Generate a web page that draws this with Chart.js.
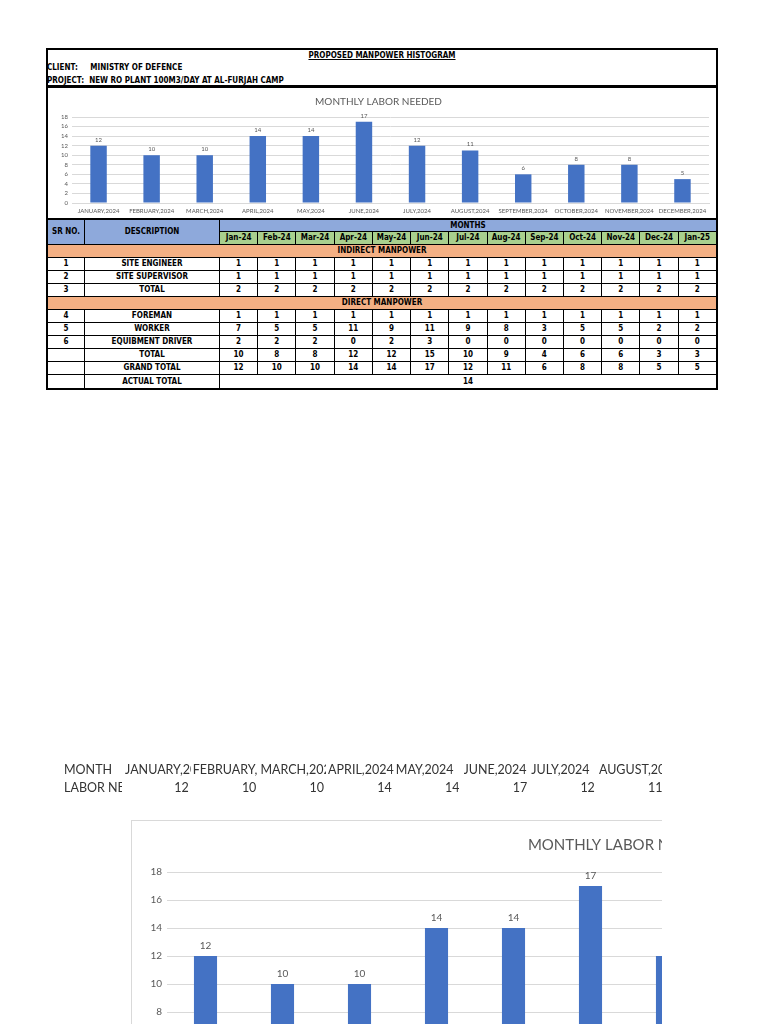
<!DOCTYPE html>
<html><head><meta charset="utf-8">
<script src="https://cdn.jsdelivr.net/npm/chart.js@4.4.1/dist/chart.umd.min.js"></script>
<style>
html,body{margin:0;padding:0;background:#fff;}
body{width:768px;height:1024px;overflow:hidden;position:relative;}
.abs{position:absolute;}
.cf{font-family:"Liberation Sans Narrow","DejaVu Sans Condensed",Lato,sans-serif;font-stretch:condensed;font-weight:bold;color:#000;white-space:nowrap;}
#frame{left:46px;top:48px;width:672px;height:342px;border:2px solid #000;box-sizing:border-box;}
#hline{left:46px;top:85px;width:672px;height:2px;background:#000;}
#title{left:46px;width:672px;top:51px;text-align:center;font-size:8px;text-decoration:underline;}
#client{left:47px;top:63px;font-size:8px;width:300px;overflow:hidden;}
#project{left:47px;top:76px;font-size:8px;width:400px;overflow:hidden;}
#cframe{left:47px;top:87px;width:670px;height:132px;border:1px solid #000;box-sizing:border-box;}
#c1wrap{left:48px;top:88px;width:668px;height:130px;}
#tbl{position:absolute;left:47px;top:219px;width:670px;border-collapse:collapse;table-layout:fixed;font-size:8px;}
#tbl td{border:1.6px solid #000;padding:0;text-align:center;vertical-align:middle;line-height:8px;overflow:hidden;white-space:nowrap;}
#tbl tr{height:13px;}
.blue{background:#8EA9DB;}
.green{background:#A9D08E;}
.orange{background:#F4B084;}
#clip{left:0;top:0;width:662px;height:1024px;overflow:hidden;}
.xc{position:absolute;font-family:Lato,"Open Sans",sans-serif;font-size:12.5px;color:#333;white-space:nowrap;overflow:hidden;height:16px;line-height:16px;}
#c2box{left:131px;top:820px;width:984px;height:337px;border:1px solid #d9d9d9;box-sizing:border-box;}
#c2wrap{left:132px;top:821px;width:982px;height:335px;}
</style>
</head>
<body>
<div id="frame" class="abs"></div>
<div id="hline" class="abs"></div>
<div id="title" class="abs cf">PROPOSED MANPOWER HISTOGRAM</div>
<div id="client" class="abs cf">CLIENT:&nbsp;&nbsp;&nbsp;&nbsp;&nbsp;MINISTRY OF DEFENCE</div>
<div id="project" class="abs cf">PROJECT:&nbsp;&nbsp;NEW RO PLANT 100M3/DAY AT AL-FURJAH CAMP</div>
<div id="cframe" class="abs"></div>
<div id="c1wrap" class="abs"><canvas id="c1"></canvas></div>
<table id="tbl" class="cf"></table>
<div id="clip" class="abs">
  <div id="xrows"></div>
  <div id="c2box" class="abs"></div>
  <div id="c2wrap" class="abs"><canvas id="c2"></canvas></div>
</div>
<script>
// ---------- DATA ----------
const chartTitle = 'MONTHLY LABOR NEEDED';
const chartLabels = ['JANUARY,2024','FEBRUARY,2024','MARCH,2024','APRIL,2024','MAY,2024','JUNE,2024','JULY,2024','AUGUST,2024','SEPTEMBER,2024','OCTOBER,2024','NOVEMBER,2024','DECEMBER,2024'];
const laborNeeded = [12,10,10,14,14,17,12,11,6,8,8,5];
const yTicks = [0,2,4,6,8,10,12,14,16,18];

const tableMonths = ['Jan-24','Feb-24','Mar-24','Apr-24','May-24','Jun-24','Jul-24','Aug-24','Sep-24','Oct-24','Nov-24','Dec-24','Jan-25'];
const siteEngineer   = [1,1,1,1,1,1,1,1,1,1,1,1,1];
const siteSupervisor = [1,1,1,1,1,1,1,1,1,1,1,1,1];
const indirectTotal  = [2,2,2,2,2,2,2,2,2,2,2,2,2];
const foreman        = [1,1,1,1,1,1,1,1,1,1,1,1,1];
const worker         = [7,5,5,11,9,11,9,8,3,5,5,2,2];
const equipDriver    = [2,2,2,0,2,3,0,0,0,0,0,0,0];
const directTotal    = [10,8,8,12,12,15,10,9,4,6,6,3,3];
const grandTotal     = [12,10,10,14,14,17,12,11,6,8,8,5,5];
const actualTotal    = 14;

// ---------- TABLE ----------
(function(){
  const t = document.getElementById('tbl');
  let h = '<colgroup><col style="width:37px"><col style="width:135px">';
  for (let i=0;i<tableMonths.length;i++) h += '<col>';
  h += '</colgroup>';
  const n = tableMonths.length;
  h += '<tr style="height:12px"><td class="blue" rowspan="2">SR NO.</td><td class="blue" rowspan="2">DESCRIPTION</td><td class="blue" colspan="'+n+'">MONTHS</td></tr>';
  h += '<tr>' + tableMonths.map(m=>'<td class="green">'+m+'</td>').join('') + '</tr>';
  const row = (sr, d, arr) => '<tr><td>'+sr+'</td><td>'+d+'</td>' + arr.map(v=>'<td>'+v+'</td>').join('') + '</tr>';
  h += '<tr><td class="orange" colspan="'+(n+2)+'">INDIRECT MANPOWER</td></tr>';
  h += row('1','SITE ENGINEER',siteEngineer);
  h += row('2','SITE SUPERVISOR',siteSupervisor);
  h += row('3','TOTAL',indirectTotal);
  h += '<tr><td class="orange" colspan="'+(n+2)+'">DIRECT MANPOWER</td></tr>';
  h += row('4','FOREMAN',foreman);
  h += row('5','WORKER',worker);
  h += row('6','EQUIBMENT DRIVER',equipDriver);
  h += row('','TOTAL',directTotal);
  h += row('','GRAND TOTAL',grandTotal);
  h += '<tr style="height:14px"><td></td><td>ACTUAL TOTAL</td><td colspan="'+n+'">'+actualTotal+'</td></tr>';
  t.innerHTML = h;
})();

// ---------- SPREADSHEET ROWS (bottom) ----------
(function(){
  const c = document.getElementById('xrows');
  let h = '';
  const colX0 = 123, colW = 67.7, y1 = 762, y2 = 780;
  h += '<div class="xc" style="left:64px;top:'+y1+'px;width:58px">MONTH</div>';
  h += '<div class="xc" style="left:64px;top:'+y2+'px;width:58px">LABOR NEEDED</div>';
  for (let i=0;i<chartLabels.length;i++){
    const x = colX0 + i*colW;
    h += '<div class="xc" style="left:'+(x+2)+'px;top:'+y1+'px;width:'+(colW-2)+'px">'+chartLabels[i]+'</div>';
    h += '<div class="xc" style="left:'+x+'px;top:'+y2+'px;width:'+(colW-2)+'px;text-align:right">'+laborNeeded[i]+'</div>';
  }
  c.innerHTML = h;
})();

// ---------- CHARTS ----------
const valueLabels = {
  id:'valueLabels',
  afterDatasetsDraw(chart, args, opts){
    const ctx = chart.ctx;
    ctx.save();
    ctx.font = opts.size + 'px Lato, sans-serif';
    ctx.fillStyle = opts.color;
    ctx.textAlign = 'center';
    ctx.textBaseline = 'bottom';
    chart.getDatasetMeta(0).data.forEach((bar,i)=>{
      ctx.fillText(chart.data.datasets[0].data[i], bar.x, bar.y - opts.offset);
    });
    ctx.restore();
  }
};

function makeChart(id, cfg){
  const scales = {
    x:{
      grid:{display:false, drawTicks:false},
      border:{display:true, color:'#d9d9d9'},
      ticks:{ color:'#595959', font:{family:'Lato, sans-serif', size:cfg.xSize}, maxRotation:0, minRotation:0, autoSkip:false, padding:cfg.xPad },
      afterFit(s){ s.height = cfg.xH; }
    },
    y:{
      min:0, max:18,
      grid:{ color:'#d9d9d9', drawTicks:false },
      border:{display:false},
      ticks:{ stepSize:2, autoSkip:false, color:'#595959', font:{family:'Lato, sans-serif', size:cfg.ySize}, padding:cfg.yPad,
              callback:(v)=> yTicks.includes(v) ? v : null },
      afterFit(s){ s.width = cfg.yW; }
    }
  };
  if (cfg.rightAxisW) {
    scales.yR = { position:'right', min:0, max:18, grid:{display:false, drawTicks:false}, border:{display:false},
                  ticks:{display:false}, afterFit(s){ s.width = cfg.rightAxisW; } };
  }
  return new Chart(document.getElementById(id), {
    type:'bar',
    data:{ labels: chartLabels, datasets:[{ data: laborNeeded, backgroundColor:'#4472C4', borderWidth:0, barPercentage:cfg.barPct, categoryPercentage:1 }] },
    options:{
      responsive:true, maintainAspectRatio:false, animation:false,
      layout:{ padding:{ left:0, right:cfg.rightPad, top:0, bottom:0 } },
      plugins:{
        legend:{display:false}, tooltip:{enabled:false},
        title:{ display:true, text:chartTitle, color:'#595959', font:{family:'Lato, sans-serif', size:cfg.titleSize, weight:'normal'}, padding:{top:cfg.titleTop, bottom:cfg.titleBottom} },
        valueLabels:{ size:cfg.lblSize, color:'#595959', offset:cfg.lblOffset }
      },
      scales
    },
    plugins:[valueLabels]
  });
}

makeChart('c1', { barPct:0.31, rightPad:7, titleSize:10, titleTop:8, titleBottom:9, lblSize:6, lblOffset:3, xSize:6, xPad:4, xH:15, ySize:6, yPad:4, yW:24 });
makeChart('c2', { barPct:0.30, rightPad:0, rightAxisW:23, titleSize:15, titleTop:15, titleBottom:18, lblSize:10, lblOffset:5, xSize:10, xPad:6, xH:32, ySize:10, yPad:5, yW:35 });
</script>
</body></html>
